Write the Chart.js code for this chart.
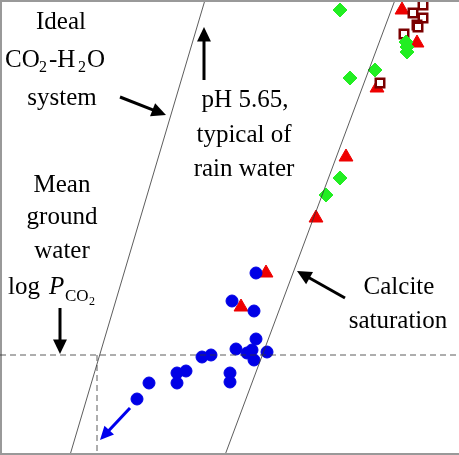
<!DOCTYPE html>
<html>
<head>
<meta charset="utf-8">
<script src="https://cdn.jsdelivr.net/npm/chart.js@4"></script>
<style>
  body { margin: 0; background: #fff; }
  #wrap { width: 459px; height: 455px; }
</style>
</head>
<body>
<div id="wrap"><canvas id="chart"></canvas></div>
<script>
// values, in the figure's own plot units (0..459 across, 0..455 down)
const groundX = [256, 232, 254, 256, 236, 247, 252, 254, 267, 211, 202, 186, 177, 177, 149, 137, 230, 230];
const groundY = [273, 301, 311, 339, 349, 353, 350, 360, 352, 355, 357, 371, 373, 383, 383, 399, 373, 382];
const triX = [266, 241, 402, 417, 377, 346, 316];
const triY = [273, 307, 10, 43, 88, 157, 218];
const diaX = [340, 407, 407, 350, 375, 340, 326, 406];
const diaY = [10, 47, 52, 78, 70, 178, 195, 42];
const sqX = [423, 413, 423, 417, 418, 404, 380];
const sqY = [5, 13, 18, 25, 27, 34, 83];
const idealLine = [[70, 455], [205, 0]];
const calciteLine = [[225, 455], [395, 0]];
const meanY = 355;
const meanX = 97;

function pts(xs, ys) {
    return xs.map((x, i) => ({ x: x, y: ys[i] }));
}

function drawArrow(ctx, x1, y1, x2, y2, color, w, head) {
    const a = Math.atan2(y2 - y1, x2 - x1);
    ctx.strokeStyle = color;
    ctx.fillStyle = color;
    ctx.lineWidth = w;
    ctx.beginPath();
    ctx.moveTo(x1, y1);
    ctx.lineTo(x2 - Math.cos(a) * head * 0.8, y2 - Math.sin(a) * head * 0.8);
    ctx.stroke();
    ctx.beginPath();
    ctx.moveTo(x2, y2);
    ctx.lineTo(x2 - head * Math.cos(a - 0.45), y2 - head * Math.sin(a - 0.45));
    ctx.lineTo(x2 - head * Math.cos(a + 0.45), y2 - head * Math.sin(a + 0.45));
    ctx.closePath();
    ctx.fill();
}

const notes = {
    id: 'notes',
    afterDatasetsDraw(chart) {
        const ctx = chart.ctx;
        const sx = v => chart.scales.x.getPixelForValue(v);
        const sy = v => chart.scales.y.getPixelForValue(v);
        ctx.save();
        // frame
        ctx.strokeStyle = '#999';
        ctx.lineWidth = 2;
        ctx.beginPath();
        ctx.moveTo(sx(459), sy(1)); ctx.lineTo(sx(1), sy(1));
        ctx.lineTo(sx(1), sy(454)); ctx.lineTo(sx(459), sy(454));
        ctx.stroke();
        // dashed mean lines
        ctx.strokeStyle = '#333';
        ctx.lineWidth = 0.8;
        ctx.setLineDash([6, 4]);
        ctx.beginPath();
        ctx.moveTo(sx(0), sy(meanY)); ctx.lineTo(sx(459), sy(meanY));
        ctx.moveTo(sx(meanX), sy(meanY)); ctx.lineTo(sx(meanX), sy(455));
        ctx.stroke();
        ctx.setLineDash([]);

        const big = '25px "Liberation Serif"';
        ctx.fillStyle = '#000';
        ctx.textAlign = 'center';
        ctx.textBaseline = 'middle';
        ctx.font = big;
        ctx.fillText('Ideal', sx(61), sy(22));
        ctx.fillText('system', sx(62), sy(98));
        ctx.textAlign = 'left';
        ctx.fillText('CO', sx(5), sy(60));
        ctx.fillText('-H', sx(49), sy(60));
        ctx.fillText('O', sx(87), sy(60));
        ctx.font = '16px "Liberation Serif"';
        ctx.fillText('2', sx(39), sy(68));
        ctx.fillText('2', sx(78), sy(68));
        ctx.textAlign = 'center';
        ctx.font = big;
        ctx.fillText('pH 5.65,', sx(245), sy(100));
        ctx.fillText('typical of', sx(244), sy(135));
        ctx.fillText('rain water', sx(244), sy(169));
        ctx.fillText('Mean', sx(62), sy(185));
        ctx.fillText('ground', sx(62), sy(217));
        ctx.fillText('water', sx(62), sy(251));
        ctx.textAlign = 'left';
        ctx.fillText('log ', sx(8), sy(287));
        ctx.font = 'italic 25px "Liberation Serif"';
        ctx.fillText('P', sx(49), sy(287));
        ctx.font = '17px "Liberation Serif"';
        ctx.fillText('CO', sx(65), sy(297));
        ctx.font = '12px "Liberation Serif"';
        ctx.fillText('2', sx(89), sy(302));
        ctx.textAlign = 'center';
        ctx.font = big;
        ctx.fillText('Calcite', sx(399), sy(287));
        ctx.fillText('saturation', sx(398), sy(321));

        drawArrow(ctx, sx(204), sy(80), sx(204), sy(27), '#000', 3, 16);
        drawArrow(ctx, sx(120), sy(97), sx(166), sy(115), '#000', 3, 16);
        drawArrow(ctx, sx(60), sy(308), sx(60), sy(354), '#000', 3, 16);
        drawArrow(ctx, sx(345), sy(298), sx(297), sy(271), '#000', 3, 16);
        drawArrow(ctx, sx(130), sy(408), sx(100), sy(440), '#0000ee', 3, 15);
        ctx.restore();
    }
};

const thin = { showLine: true, borderColor: '#333', borderWidth: 0.8, pointRadius: 0, fill: false };

new Chart(document.getElementById('chart'), {
    type: 'scatter',
    data: {
        datasets: [
            Object.assign({ data: idealLine.map(p => ({ x: p[0], y: p[1] })) }, thin),
            Object.assign({ data: calciteLine.map(p => ({ x: p[0], y: p[1] })) }, thin),
            { data: pts(groundX, groundY), pointStyle: 'circle', pointRadius: 6, backgroundColor: '#0000e6', borderColor: '#0000e6' },
            { data: pts(diaX, diaY), pointStyle: 'rectRot', pointRadius: 7, backgroundColor: '#22ee22', borderColor: '#22ee22' },
            { data: pts(sqX, sqY), pointStyle: 'rect', pointRadius: 6, backgroundColor: '#fff', borderColor: '#7a0000', borderWidth: 2.5 },
            { data: pts(triX, triY), pointStyle: 'triangle', pointRadius: 8, backgroundColor: '#ee0000', borderColor: '#ee0000' }
        ]
    },
    options: {
        responsive: true,
        maintainAspectRatio: false,
        animation: false,
        layout: { padding: 0, autoPadding: false },
        plugins: { legend: { display: false }, tooltip: { enabled: false } },
        scales: {
            x: { type: 'linear', min: 0, max: 459, display: false },
            y: { type: 'linear', min: 0, max: 455, reverse: true, display: false }
        }
    },
    plugins: [notes]
});
</script>
</body>
</html>
